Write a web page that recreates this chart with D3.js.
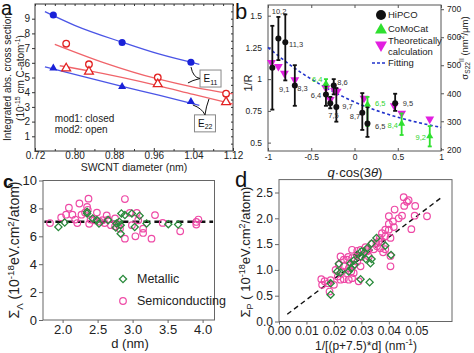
<!DOCTYPE html>
<html>
<head>
<meta charset="utf-8">
<script src="https://cdn.jsdelivr.net/npm/d3@7"></script>
<style>
  body { margin: 0; background: #fff; }
  svg { font-family: Arial, "Liberation Sans", sans-serif; }
</style>
</head>
<body>
<svg id="fig" width="474" height="353"></svg>
<script>
// ---------- data: panel a (cross section vs diameter) ----------
var e11Mod1 = [[0.757, 9.25], [0.896, 7.38], [1.035, 6.04]];
var e22Mod1 = [[0.757, 5.63], [0.896, 4.38], [1.035, 3.36]];
var e11Mod2 = [[0.783, 7.3], [0.829, 5.9], [0.968, 5.0], [1.106, 3.9]];
var e22Mod2 = [[0.783, 5.62], [0.829, 5.4], [0.968, 4.55], [1.106, 3.33]];
var fitE11Mod1 = [[0.74, 9.48], [0.80, 8.55], [0.896, 7.4], [0.97, 6.6], [1.052, 5.9]];
var fitE11Mod2 = [[0.76, 7.26], [0.86, 6.0], [0.968, 4.9], [1.04, 4.35], [1.12, 3.88]];
var fitE22Mod2 = [[0.77, 5.8], [0.83, 5.45], [0.968, 4.45], [1.04, 3.85], [1.12, 3.2]];
var fitE22Mod1 = [[0.74, 5.73], [0.82, 5.05], [0.896, 4.4], [0.97, 3.8], [1.052, 3.1]];
var aXTicks = [0.72, 0.80, 0.88, 0.96, 1.04, 1.12];
var aYTicks = [1, 2, 3, 4, 5, 6, 7, 8, 9];

// ---------- data: panel b (1/R vs q cos 3theta) ----------
var hipco = [
  {q: -0.95, r: 1.09, lo: 0.76, hi: 1.42},
  {q: -0.88, r: 1.32, lo: 1.15, hi: 1.49},
  {q: -0.80, r: 1.29, lo: 0.99, hi: 1.51},
  {q: -0.69, r: 0.95, lo: 0.79, hi: 1.11},
  {q: -0.33, r: 0.88, lo: 0.79, hi: 0.95},
  {q: -0.28, r: 0.81, lo: 0.77, hi: 0.86},
  {q: -0.24, r: 0.95, lo: 0.88, hi: 1.00},
  {q: -0.21, r: 0.78, lo: 0.665, hi: 0.93},
  {q: 0.09, r: 0.735, lo: 0.60, hi: 0.89},
  {q: 0.15, r: 0.65, lo: 0.545, hi: 0.78},
  {q: 0.47, r: 0.81, lo: 0.75, hi: 0.885}
];
var comocat = [
  {q: -0.33, r: 0.965, lo: 0.93, hi: 1.0},
  {q: 0.15, r: 0.80, lo: 0.63, hi: 0.86},
  {q: 0.545, r: 0.65, lo: 0.56, hi: 0.73},
  {q: 0.87, r: 0.55, lo: 0.47, hi: 0.63}
];
var theory = [[-0.96, 1.13], [-0.88, 1.10], [-0.81, 1.045], [-0.69, 0.995], [-0.33, 0.93],
  [-0.28, 0.84], [-0.23, 0.91], [-0.20, 0.905], [0.11, 0.85], [0.46, 0.79], [0.545, 0.73], [0.87, 0.685]];
var fitB = [[-1, 1.25], [-0.7, 1.09], [-0.4, 0.96], [0, 0.82], [0.5, 0.70], [1, 0.62]];
var chiralLabels = [
  {q: -0.957, r: 1.53, t: "10,2", c: "k", a: "start"},
  {q: -0.873, r: 0.922, t: "9,1", c: "k", a: "start"},
  {q: -0.757, r: 1.277, t: "11,3", c: "k", a: "start"},
  {q: -0.661, r: 0.926, t: "8,3", c: "k", a: "start"},
  {q: -0.384, r: 0.875, t: "6,4", c: "k", a: "end"},
  {q: -0.303, r: 0.717, t: "7,5", c: "k", a: "start"},
  {q: -0.199, r: 0.977, t: "8,6", c: "k", a: "start"},
  {q: -0.141, r: 0.785, t: "9,7", c: "k", a: "start"},
  {q: 0.066, r: 0.71, t: "8,7", c: "k", a: "end"},
  {q: 0.237, r: 0.631, t: "6,5", c: "k", a: "start"},
  {q: 0.557, r: 0.812, t: "9,5", c: "k", a: "start"},
  {q: -0.491, r: 1.001, t: "6,4", c: "g", a: "start"},
  {q: 0.237, r: 0.812, t: "6,5", c: "g", a: "start"},
  {q: 0.503, r: 0.639, t: "8,4", c: "g", a: "end"},
  {q: 0.827, r: 0.544, t: "9,2", c: "g", a: "end"}
];
var bXTicks = [-1, -0.5, 0, 0.5, 1];
var bYTicks = [0.5, 0.75, 1, 1.25, 1.5];
var bY2Ticks = [200, 300, 400, 500, 600, 700];

// ---------- data: panel c (Sigma_Lambda vs d) ----------
var metallicC = [[1.94, 6.67], [2.03, 6.99], [2.35, 7.76], [2.35, 7.64], [2.43, 7.28], [2.49, 7.16],
  [2.52, 6.92], [2.65, 7.16], [2.77, 6.92], [2.81, 7.04], [2.83, 6.80], [2.83, 6.19], [2.84, 7.64],
  [2.89, 7.52], [2.99, 7.64], [3.03, 6.67], [3.10, 7.47], [3.20, 6.92], [3.51, 6.87], [3.65, 6.84],
  [2.76, 6.63]];
var semiC = [[1.82, 6.95], [1.98, 7.35], [2.09, 8.05], [2.05, 7.55], [2.14, 7.55], [2.18, 7.2],
  [2.24, 8.35], [2.27, 7.55], [2.21, 6.95], [2.35, 8.1], [2.37, 8.7], [2.36, 7.9], [2.32, 7.7],
  [2.38, 6.9], [2.40, 7.2], [2.49, 7.7], [2.53, 7.05], [2.45, 7.15], [2.57, 7.15], [2.63, 7.5],
  [2.65, 7.2], [2.69, 6.8], [2.60, 6.95], [2.75, 6.72], [2.80, 6.85], [2.89, 8.67], [2.89, 5.83],
  [2.75, 7.28], [2.82, 6.55], [2.96, 7.68], [2.99, 6.8], [3.06, 7.68], [3.04, 6.0], [3.08, 7.15],
  [3.15, 6.55], [3.15, 6.24], [3.27, 5.83], [3.32, 7.52], [3.43, 6.96], [3.68, 6.36], [3.91, 6.84],
  [3.94, 7.2], [3.91, 7.03]];
var meanC = 7.05;
var cXTicks = [2.0, 2.5, 3.0, 3.5, 4.0];
var cYTicks = [0, 2, 4, 6, 8, 10];

// ---------- data: panel d (Sigma_P vs 1/[(p+7.5)d]) ----------
var metallicD = [[0.0188, 0.52], [0.0188, 0.74], [0.0212, 0.97], [0.0218, 1.12], [0.0224, 0.95],
  [0.0254, 0.97], [0.0263, 1.03], [0.0275, 1.10], [0.0260, 1.13], [0.0272, 1.18], [0.0297, 1.26],
  [0.0312, 1.34], [0.0321, 1.42], [0.0337, 1.51], [0.0355, 1.62], [0.0387, 1.47], [0.0408, 1.29],
  [0.0337, 1.21], [0.0333, 1.13], [0.0297, 0.82], [0.0330, 0.76], [0.0300, 1.36], [0.0316, 1.21]];
var metallicDMark = [[0.0285, 1.29]];
var semiD = [[0.0154, 0.82], [0.0166, 0.78], [0.0157, 0.71], [0.0179, 0.74], [0.0188, 0.80],
  [0.0200, 0.71], [0.0184, 0.58], [0.0224, 0.81], [0.0236, 0.82], [0.0254, 0.81], [0.0263, 0.97],
  [0.0272, 0.94], [0.0290, 0.78], [0.0230, 0.97], [0.0236, 1.20], [0.0224, 1.26], [0.0248, 1.20],
  [0.0252, 1.25], [0.0266, 1.39], [0.0266, 1.23], [0.0285, 1.37], [0.0297, 1.39], [0.0315, 1.44],
  [0.0324, 1.39], [0.0339, 1.51], [0.0345, 1.40], [0.0355, 1.51], [0.0367, 1.62], [0.0375, 1.71],
  [0.0387, 1.78], [0.0400, 1.78], [0.0406, 1.62], [0.0418, 1.83], [0.0415, 1.94], [0.0421, 2.17],
  [0.0400, 2.04], [0.0436, 2.00], [0.0448, 2.05], [0.0456, 2.24], [0.0454, 2.41], [0.0466, 2.32],
  [0.0472, 2.35], [0.0496, 2.24], [0.0494, 2.05], [0.0482, 1.79], [0.0539, 2.04], [0.0400, 1.89],
  [0.0406, 1.27], [0.0406, 1.07], [0.0387, 1.40], [0.0375, 1.55], [0.0387, 1.65], [0.0363, 1.55],
  [0.0357, 1.46], [0.0369, 1.42], [0.0379, 1.34], [0.0321, 1.36], [0.0299, 1.25], [0.0327, 1.26],
  [0.0285, 1.16], [0.0297, 1.07], [0.0236, 1.07], [0.0218, 1.10], [0.0254, 1.03], [0.0272, 1.10],
  [0.0206, 1.00], [0.0214, 0.87], [0.0266, 0.84]];
var fitD = [[0.003, 0.14], [0.0593, 2.41]];
var dXTicks = [0, 0.01, 0.02, 0.03, 0.04, 0.05];
var dYTicks = [0, 0.5, 1.0, 1.5, 2.0, 2.5];

// ---------- helpers ----------
var svg = d3.select("#fig");
svg.append("rect").attr("width", 474).attr("height", 353).attr("fill", "#fff");

// text with sup / sub / italic parts
function rich(sel, parts, fs) {
  var cur = 0;
  parts.forEach(function (p) {
    var t = sel.append("tspan").text(p[0]);
    var target = 0;
    if (p[1] === "sup") { target = -fs * 0.38; t.attr("font-size", fs * 0.7); }
    if (p[1] === "sub") { target = fs * 0.25; t.attr("font-size", fs * 0.7); }
    if (p[1] === "i") t.attr("font-style", "italic");
    if (target !== cur) t.attr("dy", target - cur);
    cur = target;
  });
  return sel;
}

function styleAxis(g, fs, color) {
  g.select(".domain").remove();
  g.selectAll("line").attr("stroke", color);
  g.selectAll("text").attr("font-size", fs).attr("fill", "#222")
    .attr("font-family", "Arial, 'Liberation Sans', sans-serif");
}

function box(g, x, y, color) {
  g.append("rect")
    .attr("x", x.range()[0]).attr("y", y.range()[1])
    .attr("width", x.range()[1] - x.range()[0])
    .attr("height", y.range()[0] - y.range()[1])
    .attr("fill", "none").attr("stroke", color).attr("stroke-width", 1);
}

function letter(t, x, y, fs, bold) {
  svg.append("text").attr("x", x).attr("y", y).attr("font-size", fs)
    .attr("font-weight", bold ? "bold" : "normal").attr("fill", "#111").text(t);
}

var triUp = d3.symbol().type(d3.symbolTriangle);
var circ = d3.symbol().type(d3.symbolCircle);
var sq = d3.symbol().type(d3.symbolSquare);

// ---------- panel a ----------
function panelA() {
  var x = d3.scaleLinear().domain([0.72, 1.12]).range([35, 233]);
  var y = d3.scaleLinear().domain([0, 10]).range([151, 4]);
  var g = svg.append("g");
  var ax = "#333";

  g.append("g").attr("transform", "translate(0," + y(0) + ")")
    .call(d3.axisBottom(x).tickValues(aXTicks).tickFormat(d3.format(".2f")).tickSize(-3).tickPadding(1))
    .call(function (s) { styleAxis(s, 10, ax); });
  g.append("g").attr("transform", "translate(0," + y(0) + ")")
    .call(d3.axisBottom(x).tickValues(d3.range(0.76, 1.12, 0.08)).tickFormat("").tickSize(-2))
    .call(function (s) { styleAxis(s, 10, ax); });
  g.append("g").attr("transform", "translate(" + x(0.72) + ",0)")
    .call(d3.axisLeft(y).tickValues(aYTicks).tickFormat(d3.format("d")).tickSize(3).tickPadding(2))
    .call(function (s) { styleAxis(s, 10, ax); });
  g.append("g").attr("transform", "translate(0," + y(10) + ")")
    .call(d3.axisBottom(x).tickValues(d3.range(0.72, 1.13, 0.02)).tickFormat("").tickSize(2))
    .call(function (s) { styleAxis(s, 10, ax); });
  g.append("g").attr("transform", "translate(" + x(1.12) + ",0)")
    .call(d3.axisLeft(y).tickValues(d3.range(0.5, 10, 0.5)).tickFormat("").tickSize(2))
    .call(function (s) { styleAxis(s, 10, ax); });
  box(g, x, y, ax);

  var line = d3.line().x(function (d) { return x(d[0]); }).y(function (d) { return y(d[1]); })
    .curve(d3.curveMonotoneX);
  [[fitE11Mod1, "#4b55e6"], [fitE22Mod1, "#4b55e6"], [fitE11Mod2, "#f0646a"], [fitE22Mod2, "#f0646a"]]
    .forEach(function (f) {
      g.append("path").attr("d", line(f[0])).attr("fill", "none")
        .attr("stroke", f[1]).attr("stroke-width", 1.3);
    });

  g.selectAll(".bc").data(e11Mod1).enter().append("path")
    .attr("d", circ.size(40)())
    .attr("transform", function (d) { return "translate(" + x(d[0]) + "," + y(d[1]) + ")"; })
    .attr("fill", "#1a22d8");
  g.selectAll(".bt").data(e22Mod1).enter().append("path")
    .attr("d", triUp.size(28)())
    .attr("transform", function (d) { return "translate(" + x(d[0]) + "," + y(d[1]) + ")"; })
    .attr("fill", "#1a22d8");
  g.selectAll(".rc").data(e11Mod2).enter().append("path")
    .attr("d", circ.size(34)())
    .attr("transform", function (d) { return "translate(" + x(d[0]) + "," + y(d[1]) + ")"; })
    .attr("fill", "#fff").attr("stroke", "#e22222").attr("stroke-width", 1.3);
  g.selectAll(".rt").data(e22Mod2).enter().append("path")
    .attr("d", triUp.size(34)())
    .attr("transform", function (d) { return "translate(" + x(d[0]) + "," + y(d[1]) + ")"; })
    .attr("fill", "#fff").attr("stroke", "#e22222").attr("stroke-width", 1.3);

  // E11 / E22 call-outs
  var e11 = [x(1.0746), y(4.93)], e22 = [x(1.0634), y(1.88)];
  [e11, e22].forEach(function (c, i) {
    g.append("rect").attr("x", c[0] - 10.5).attr("y", c[1] - 8.5).attr("width", 21).attr("height", 17)
      .attr("fill", "#fff").attr("stroke", "#888");
    rich(g.append("text").attr("x", c[0] - 7).attr("y", c[1] + 3.5).attr("font-size", 10).attr("fill", "#111"),
      [["E", ""], [i === 0 ? "11" : "22", "sub"]], 10);
  });
  var q = d3.path();
  q.moveTo(x(1.0352), y(5.71)); q.quadraticCurveTo(x(1.0352) + 2, y(5.0), e11[0] - 10.5, e11[1]);
  q.moveTo(e11[0] - 10.5, e11[1]); q.quadraticCurveTo(x(1.029) + 4, y(4.8), x(1.029), y(4.63));
  q.moveTo(x(1.039), y(3.13)); q.quadraticCurveTo(e22[0] - 3, y(2.9), e22[0], e22[1] - 8.5);
  q.moveTo(e22[0], e22[1] - 8.5); q.quadraticCurveTo(e22[0] + 1, y(3.0), x(1.0715), y(3.54));
  g.append("path").attr("d", q.toString()).attr("fill", "none").attr("stroke", "#111").attr("stroke-width", 1);

  g.append("text").attr("x", x(0.76)).attr("y", y(1.95)).attr("font-size", 10).attr("fill", "#222")
    .text("mod1: closed");
  g.append("text").attr("x", x(0.76)).attr("y", y(1.2)).attr("font-size", 10).attr("fill", "#222")
    .text("mod2: open");

  g.append("text").attr("x", 134).attr("y", 171).attr("text-anchor", "middle").attr("font-size", 10.5)
    .attr("fill", "#222").text("SWCNT diameter (nm)");
  g.append("text").attr("transform", "translate(11,77) rotate(-90)").attr("text-anchor", "middle")
    .attr("font-size", 10).attr("fill", "#222").text("Integrated abs. cross section");
  rich(g.append("text").attr("transform", "translate(24,78) rotate(-90)").attr("text-anchor", "middle")
    .attr("font-size", 10).attr("fill", "#222"),
    [["(10", ""], ["-15", "sup"], [" cm  C-atom", ""], ["-1", "sup"], [")", ""]], 10);
}

// ---------- panel b ----------
function panelB() {
  var x = d3.scaleLinear().domain([-1, 1]).range([268, 441]);
  var y = d3.scaleLinear().domain([0.434, 1.584]).range([151, 5]);
  var y2 = d3.scaleLinear().domain([194, 715]).range([151, 5]);
  var g = svg.append("g");
  var ax = "#555";

  g.append("g").attr("transform", "translate(0," + y.range()[0] + ")")
    .call(d3.axisBottom(x).tickValues(bXTicks).tickFormat(function (d) { return String(d); }).tickSize(-3).tickPadding(3))
    .call(function (s) { styleAxis(s, 8.5, ax); });
  g.append("g").attr("transform", "translate(0," + y.range()[1] + ")")
    .call(d3.axisTop(x).tickValues(bXTicks).tickFormat("").tickSize(-3))
    .call(function (s) { styleAxis(s, 8.5, ax); });
  g.append("g").attr("transform", "translate(" + x(-1) + ",0)")
    .call(d3.axisLeft(y).tickValues(bYTicks).tickFormat(function (d) { return String(d); }).tickSize(-3).tickPadding(6))
    .call(function (s) { styleAxis(s, 8.5, ax); });
  g.append("g").attr("transform", "translate(" + x(1) + ",0)")
    .call(d3.axisRight(y2).tickValues(bY2Ticks).tickFormat(d3.format("d")).tickSize(3).tickPadding(3))
    .call(function (s) { styleAxis(s, 8.5, ax); });
  box(g, x, y, ax);

  var line = d3.line().x(function (d) { return x(d[0]); }).y(function (d) { return y(d[1]); })
    .curve(d3.curveMonotoneX);
  g.append("path").attr("d", line(fitB)).attr("fill", "none").attr("stroke", "#2233cc")
    .attr("stroke-width", 1.6).attr("stroke-dasharray", "3,2.5");

  function errs(data, color) {
    var e = g.append("g").attr("stroke", color).attr("stroke-width", 1.8);
    data.forEach(function (d) {
      e.append("line").attr("x1", x(d.q)).attr("x2", x(d.q)).attr("y1", y(d.lo)).attr("y2", y(d.hi));
      e.append("line").attr("x1", x(d.q) - 2).attr("x2", x(d.q) + 2).attr("y1", y(d.lo)).attr("y2", y(d.lo));
      e.append("line").attr("x1", x(d.q) - 2).attr("x2", x(d.q) + 2).attr("y1", y(d.hi)).attr("y2", y(d.hi));
    });
  }
  g.selectAll(".th").data(theory).enter().append("path")
    .attr("d", triUp.size(34)())
    .attr("transform", function (d) { return "translate(" + x(d[0]) + "," + y(d[1]) + ") rotate(180)"; })
    .attr("fill", "#e21fe0");
  errs(comocat, "#2fe02f");
  errs(hipco, "#111");
  g.selectAll(".cm").data(comocat).enter().append("path")
    .attr("d", triUp.size(22)())
    .attr("transform", function (d) { return "translate(" + x(d.q) + "," + y(d.r) + ")"; })
    .attr("fill", "#2fe02f");
  g.selectAll(".hp").data(hipco).enter().append("circle")
    .attr("cx", function (d) { return x(d.q); }).attr("cy", function (d) { return y(d.r); })
    .attr("r", 3).attr("fill", "#111");

  g.selectAll(".lb").data(chiralLabels).enter().append("text")
    .attr("x", function (d) { return x(d.q); }).attr("y", function (d) { return y(d.r); })
    .attr("dy", "0.35em").attr("text-anchor", function (d) { return d.a; })
    .attr("font-size", 7.5).attr("fill", function (d) { return d.c === "g" ? "#2fd42f" : "#333"; })
    .text(function (d) { return d.t; });

  // legend
  var lx = 381;
  g.append("circle").attr("cx", lx).attr("cy", 15).attr("r", 5).attr("fill", "#111");
  g.append("path").attr("d", triUp.size(62)()).attr("transform", "translate(" + lx + ",30)").attr("fill", "#2fe02f");
  g.append("path").attr("d", triUp.size(62)()).attr("transform", "translate(" + lx + ",45) rotate(180)").attr("fill", "#e21fe0");
  g.append("line").attr("x1", lx - 9).attr("x2", lx + 5).attr("y1", 63).attr("y2", 63)
    .attr("stroke", "#2233cc").attr("stroke-width", 1.4).attr("stroke-dasharray", "3,2");
  [["HiPCO", 15], ["CoMoCat", 29], ["Theoretically", 41], ["calculation", 52], ["Fitting", 63]]
    .forEach(function (t) {
      g.append("text").attr("x", lx + 7).attr("y", t[1]).attr("dy", "0.35em")
        .attr("font-size", 9.5).attr("fill", "#222").text(t[0]);
    });

  rich(g.append("text").attr("x", 355).attr("y", 177).attr("text-anchor", "middle")
    .attr("font-size", 13).attr("fill", "#222"),
    [["q", "i"], ["\u00b7cos(3", ""], ["\u03b8", "i"], [")", ""]], 13);
  g.append("text").attr("transform", "translate(252,83) rotate(-90)").attr("text-anchor", "middle")
    .attr("font-size", 11).attr("fill", "#222").text("1/R");
  rich(g.append("text").attr("transform", "translate(468,48) rotate(-90)").attr("text-anchor", "middle")
    .attr("font-size", 9.5).attr("fill", "#222"),
    [["\u03c3", ""], ["S22", "sub"], ["II", "sup"], [" (nm", ""], ["2", "sup"], ["/\u03bcm)", ""]], 9.5);
}

// ---------- panels c and d ----------
function scatterPanel(x, y, metallic, semi) {
  var g = svg.append("g");
  g.selectAll(".s").data(semi).enter().append("circle")
    .attr("cx", function (d) { return x(d[0]); }).attr("cy", function (d) { return y(d[1]); })
    .attr("r", 3.3).attr("fill", "none").attr("stroke", "#ee4aa6").attr("stroke-width", 1.2);
  g.selectAll(".m").data(metallic).enter().append("path")
    .attr("d", sq.size(26)())
    .attr("transform", function (d) { return "translate(" + x(d[0]) + "," + y(d[1]) + ") rotate(45)"; })
    .attr("fill", "none").attr("stroke", "#2a8a3c").attr("stroke-width", 1.3);
  return g;
}

function panelC() {
  var x = d3.scaleLinear().domain([1.72, 4.17]).range([43, 214.5]);
  var y = d3.scaleLinear().domain([0, 10]).range([320, 180.5]);
  var g = svg.append("g");
  var ax = "#666";
  g.append("g").attr("transform", "translate(0," + y(0) + ")")
    .call(d3.axisBottom(x).tickValues(cXTicks).tickFormat(d3.format(".1f")).tickSize(3).tickPadding(2))
    .call(function (s) { styleAxis(s, 13, ax); });
  g.append("g").attr("transform", "translate(" + x.range()[0] + ",0)")
    .call(d3.axisLeft(y).tickValues(cYTicks).tickFormat(d3.format("d")).tickSize(4).tickPadding(2))
    .call(function (s) { styleAxis(s, 13, ax); });
  box(g, x, y, ax);

  g.append("line").attr("x1", x(1.74)).attr("x2", x(4.15)).attr("y1", y(meanC)).attr("y2", y(meanC))
    .attr("stroke", "#111").attr("stroke-width", 2.5).attr("stroke-dasharray", "7,4");
  scatterPanel(x, y, metallicC, semiC);

  // legend
  g.append("path").attr("d", sq.size(26)()).attr("transform", "translate(123,279) rotate(45)")
    .attr("fill", "none").attr("stroke", "#2a8a3c").attr("stroke-width", 1.3);
  g.append("circle").attr("cx", 123).attr("cy", 301).attr("r", 3.3)
    .attr("fill", "none").attr("stroke", "#ee4aa6").attr("stroke-width", 1.2);
  g.append("text").attr("x", 137).attr("y", 279).attr("dy", "0.35em").attr("font-size", 12.5)
    .attr("fill", "#222").text("Metallic");
  g.append("text").attr("x", 137).attr("y", 301).attr("dy", "0.35em").attr("font-size", 12.5)
    .attr("fill", "#222").text("Semiconducting");

  g.append("text").attr("x", 130).attr("y", 348).attr("text-anchor", "middle").attr("font-size", 13)
    .attr("fill", "#222").text("d (nm)");
  rich(g.append("text").attr("transform", "translate(19,250) rotate(-90)").attr("text-anchor", "middle")
    .attr("font-size", 14).attr("fill", "#222"),
    [["\u03a3", ""], ["\u039b", "sub"], [" (10", ""], ["-18", "sup"], ["eV.cm", ""], ["2", "sup"], ["/atom)", ""]], 14);
}

function panelD() {
  var x = d3.scaleLinear().domain([0, 0.063]).range([279, 452]);
  var y = d3.scaleLinear().domain([0, 2.75]).range([321.5, 179.6]);
  var g = svg.append("g");
  var ax = "#666";
  g.append("g").attr("transform", "translate(0," + y(0) + ")")
    .call(d3.axisBottom(x).tickValues(dXTicks).tickFormat(d3.format(".2f")).tickSize(3).tickPadding(2))
    .call(function (s) { styleAxis(s, 12, ax); });
  g.append("g").attr("transform", "translate(" + x(0) + ",0)")
    .call(d3.axisLeft(y).tickValues(dYTicks).tickFormat(d3.format(".1f")).tickSize(4).tickPadding(2))
    .call(function (s) { styleAxis(s, 12, ax); });
  box(g, x, y, ax);

  g.append("line").attr("x1", x(fitD[0][0])).attr("y1", y(fitD[0][1]))
    .attr("x2", x(fitD[1][0])).attr("y2", y(fitD[1][1]))
    .attr("stroke", "#111").attr("stroke-width", 1.4).attr("stroke-dasharray", "5,3.5");
  scatterPanel(x, y, metallicD, semiD);
  g.selectAll(".mk").data(metallicDMark).enter().append("path")
    .attr("d", sq.size(34)())
    .attr("transform", function (d) { return "translate(" + x(d[0]) + "," + y(d[1]) + ") rotate(45)"; })
    .attr("fill", "#2a7a30").attr("stroke", "#1f6a25");

  rich(g.append("text").attr("x", 366).attr("y", 350).attr("text-anchor", "middle").attr("font-size", 12)
    .attr("fill", "#222"), [["1/[(p+7.5)*d] (nm", ""], ["-1", "sup"], [")", ""]], 12);
  rich(g.append("text").attr("transform", "translate(250,252) rotate(-90)").attr("text-anchor", "middle")
    .attr("font-size", 13).attr("fill", "#222"),
    [["\u03a3", ""], ["P", "sub"], [" ( 10", ""], ["-18", "sup"], ["eV.cm", ""], ["2", "sup"], ["/atom)", ""]], 13);
}

panelA();
panelB();
panelC();
panelD();
letter("a", 1, 15, 20, false);
letter("b", 235, 19, 22, false);
letter("c", 3, 188, 19, true);
letter("d", 235, 187, 22, false);
</script>
</body>
</html>
